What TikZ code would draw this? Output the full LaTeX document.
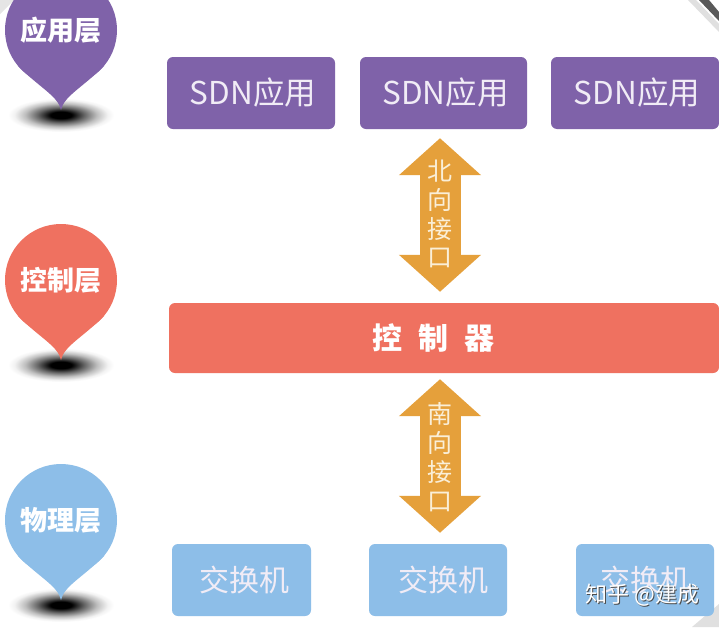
\documentclass[tikz,border=0pt]{standalone}
\usepackage{fontspec}
\setmainfont{Noto Sans CJK SC}
\usetikzlibrary{arrows.meta}
\definecolor{appc}{HTML}{7F62A9}
\definecolor{ctlc}{HTML}{EF7160}
\definecolor{phyc}{HTML}{8DBEE8}
\definecolor{arrc}{HTML}{E5A03B}
\definecolor{boxtxt}{HTML}{F1ECF6}
\definecolor{arrtxt}{HTML}{FAEFD8}
\pgfdeclareradialshading{pinshade}{\pgfpoint{0bp}{0bp}}{color(0bp)=(black);color(5bp)=(black);color(11bp)=(black!60);color(17bp)=(black!25);color(22bp)=(black!5);color(25bp)=(white);color(50bp)=(white)}
\tikzset{
  x=1pt,y=-1pt,
  stdbox/.style={rounded corners=6pt,inner sep=0pt,text=boxtxt,font=\fontsize{31.5}{32}\selectfont,align=center},
  pinhead/.style={circle,minimum size=112pt,inner sep=0pt,text=white,font=\bfseries\fontsize{27}{28}\selectfont},
  dbl/.style={arrc,line width=41pt,{Triangle[width=80pt,length=37pt]}-{Triangle[width=80pt,length=37pt]}},
  arrlabel/.style={inner sep=0pt,text=arrtxt,font=\fontsize{25}{25}\selectfont},
}
\newcommand{\pinat}[4]{% name, y, colour, label
  \shade[shading=pinshade] (61,#2+85) ellipse [x radius=53,y radius=17];
  \fill[#3] (61,#2) ++(-43,36) .. controls +(22,22) and +(-3,-14) .. ++(43,44)
     .. controls +(3,-14) and +(-22,22) .. ++(43,-44) -- cycle;
  \node[pinhead,fill=#3] (#1) at (61,#2) {#4};
}
\begin{document}
\begin{tikzpicture}
\clip (0,0) rectangle (719,627);
\useasboundingbox (0,0) rectangle (719,627);
\fill[white] (0,0) rectangle (719,627);
% corner sheets
\fill[black!12] (688,0) -- (719,32) -- (719,24) -- (696,0) -- cycle;
\fill[black!65] (699,0) -- (719,21) -- (719,12) -- (709,0) -- cycle;
\fill[black!10] (0,14) -- (14,0) -- (0,0) -- cycle;
\fill[black!12] (719,604) -- (692,627) -- (719,627) -- cycle;
% layer pins
\pinat{applayer}{30}{appc}{应用层}
\pinat{ctllayer}{280}{ctlc}{\raisebox{-3pt}{控制层}}
\pinat{phylayer}{520}{phyc}{物理层}
% boxes
\node[stdbox,fill=appc,minimum width=168pt,minimum height=72pt] (sdna) at (251,93) {\hspace*{4pt}SDN应用};
\node[stdbox,fill=appc,minimum width=167pt,minimum height=72pt] (sdnb) at (443.5,93) {\hspace*{4pt}SDN应用};
\node[stdbox,fill=appc,minimum width=168pt,minimum height=72pt] (sdnc) at (635,93) {\hspace*{4pt}SDN应用};
\node[stdbox,fill=ctlc,minimum width=550pt,minimum height=70pt,text=white,font=\bfseries\fontsize{30}{30}\selectfont] (ctl) at (444,338) {\raisebox{-3pt}{控\hspace{16pt}制\hspace{16pt}器}\hspace*{21pt}};
\node[stdbox,fill=phyc,minimum width=139pt,minimum height=72pt,font=\fontsize{30}{30}\selectfont] (swa) at (241.5,580) {\raisebox{2pt}{\hspace*{6pt}交换机}};
\node[stdbox,fill=phyc,minimum width=138pt,minimum height=72pt,font=\fontsize{30}{30}\selectfont] (swb) at (438,580) {\raisebox{2pt}{\hspace*{10pt}交换机}};
\node[stdbox,fill=phyc,minimum width=138pt,minimum height=72pt,font=\fontsize{30}{30}\selectfont] (swc) at (645,580) {\raisebox{2pt}{交换机}};
% double arrows
\coordinate (axis) at (440,0);
\draw[dbl,shorten <=9pt,shorten >=11pt] (sdnb.south -| axis) -- (ctl.north -| axis);
\draw[dbl,shorten <=6pt,shorten >=11pt] (ctl.south -| axis) -- (swb.north -| axis);
\node[arrlabel] (na) at (440,171) {北};
\node[arrlabel] (nb) at (440,200) {向};
\node[arrlabel] (nc) at (440,229) {接};
\node[arrlabel] (nd) at (440,258) {口};
\node[arrlabel] (sa) at (440,414) {南};
\node[arrlabel] (sb) at (440,443) {向};
\node[arrlabel] (sc) at (440,472) {接};
\node[arrlabel] (sd) at (440,502) {口};
% watermark
\node[inner sep=0pt,text=black!70,font=\fontsize{22}{22}\selectfont] (wms) at (643.5,596.5) {知乎 @建成};
\node[inner sep=0pt,text=white,font=\fontsize{22}{22}\selectfont] (wm) at (642.5,595.5) {知乎 @建成};
\end{tikzpicture}
\end{document}
